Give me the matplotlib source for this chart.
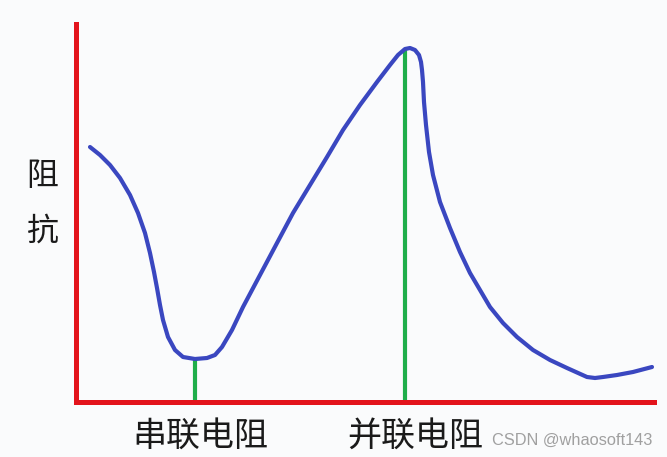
import matplotlib
matplotlib.use("Agg")
import matplotlib.pyplot as plt

plt.rcParams['font.family'] = ['Noto Sans CJK SC', 'DejaVu Sans']

# Impedance curve (x: frequency axis units, y: impedance units)
freq = [14, 24, 34, 44, 54, 62, 69, 74, 78, 81, 84, 87, 92, 99, 107, 119, 131,
        139, 146, 156, 167, 184, 201, 217, 234, 251, 267, 284, 301, 314, 322,
        329, 334, 339, 343, 345, 346, 347, 348, 350, 353, 357, 364, 374, 384,
        394, 404, 414, 427, 441, 457, 474, 491, 511, 519, 527, 541, 557, 576]
impedance = [255, 247, 237, 224, 207, 189, 169, 149, 130, 114, 97, 82, 65, 52,
             45, 43, 44, 47, 55, 72, 95, 127, 159, 189, 217, 245, 272, 297, 320,
             337, 347, 353, 354, 352, 347, 340, 332, 320, 300, 277, 250, 227,
             200, 174, 150, 129, 112, 95, 79, 65, 52, 42, 34, 25, 24, 25, 27,
             30, 35]

# Resonance markers
resonance_x = [119, 329]
resonance_y = [43, 353]
resonance_labels = ['串联电阻', '并联电阻']
label_x = [124, 339]
y_label_chars = ['阻', '抗']
watermark = 'CSDN @whaosoft143'

W, H = 667, 457
fig = plt.figure(figsize=(W / 100, H / 100), dpi=100, facecolor='#fafbfc')
ax = fig.add_axes([76 / W, (H - 402) / H, 578 / W, 378 / H])
ax.set_facecolor('#fafbfc')
ax.set_xlim(0, 578)
ax.set_ylim(0, 378)

red = '#e3141c'
for s in ['top', 'right']:
    ax.spines[s].set_visible(False)
for s in ['left', 'bottom']:
    ax.spines[s].set_color(red)
    ax.spines[s].set_linewidth(3.6)
    ax.spines[s].set_capstyle('projecting')
ax.set_xticks([])
ax.set_yticks([])

green = '#1fae4a'
for rx, ry in zip(resonance_x, resonance_y):
    ax.plot([rx, rx], [0, ry], color=green, lw=3.0, solid_capstyle='butt', zorder=2)

ax.plot(freq, impedance, color='#3a47c0', lw=3.0, solid_capstyle='round',
        solid_joinstyle='round', zorder=3)

for lx, lab in zip(label_x, resonance_labels):
    ax.text(lx, -34, lab, ha='center', va='center', fontsize=24.5,
            color='#1a1a1a', clip_on=False)

for i, ch in enumerate(y_label_chars):
    fig.text(42 / W, 1 - (176 + 56 * i) / H, ch, ha='center', va='center',
             fontsize=23, color='#1a1a1a')

fig.text(572 / W, 1 - 440 / H, watermark, ha='center', va='center',
         fontsize=11.8, color='#a0a0a0', family=['Liberation Sans', 'DejaVu Sans'])

fig.savefig('out.png', dpi=100, facecolor=fig.get_facecolor())
